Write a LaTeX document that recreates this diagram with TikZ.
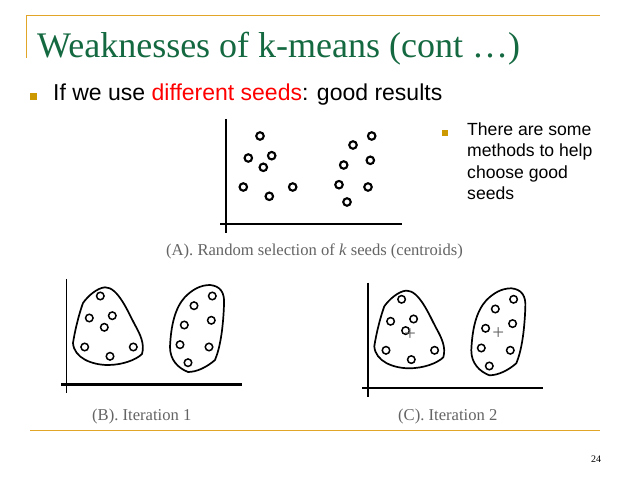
\documentclass[tikz,border=0pt]{standalone}
\usepackage{fontspec}
\setmainfont{Liberation Serif}
\newfontfamily\bodyfont{Liberation Sans}
\definecolor{rulegold}{RGB}{226,165,40}
\definecolor{bulletgold}{RGB}{204,153,0}
\definecolor{titlegreen}{RGB}{20,105,65}
\definecolor{captiongray}{RGB}{100,100,100}
\tikzset{
  seed/.style={circle,draw=black,line width=2.1pt,minimum size=7.5pt,inner sep=0pt},
  bullet/.style={fill=bulletgold,inner sep=0pt,minimum size=#1},
  caption/.style={anchor=base west,inner sep=0pt,text=captiongray,font=\fontsize{16.6}{20}\selectfont},
  body/.style={anchor=base west,inner sep=0pt,font=\bodyfont\fontsize{23}{27}\selectfont},
  centre/.style={inner sep=0pt,text=captiongray,font=\fontsize{21}{21}\selectfont},
  blob/.style={line width=1.7pt}
}
% the two clusters, in pixels of panel B
\newcommand{\blobleft}{(55,17.3) .. controls (68,17) and (78,42) .. (85,55) .. controls (90,64) and (95,74) .. (92,84) .. controls (86,90) and (72,95) .. (58,95) .. controls (42,95) and (24,88) .. (23,73) .. controls (25,60) and (29,44) .. (33,33) .. controls (38,26) and (47,18) .. (55,17.3)}
\newcommand{\blobright}{(160,15) .. controls (170,16) and (175,22) .. (174,35) .. controls (173,60) and (170,78) .. (165,90) .. controls (157,97) and (147,102) .. (138,102) .. controls (128,98) and (120,90) .. (120,77) .. controls (121,55) and (125,38) .. (135,27) .. controls (142,20) and (150,15) .. (160,15)}
\begin{document}
\begin{tikzpicture}[x=1pt,y=-1pt]
  \useasboundingbox (0,0) rectangle (638,478);
  \fill[white] (0,0) rectangle (638,478);
  % frame
  \draw[rulegold,line width=1.2pt] (26.5,58) -- (26.5,15.5) -- (600,15.5);
  \draw[rulegold,line width=1.2pt] (30,430.5) -- (600,430.5);
  % text
  \node[anchor=base west,inner sep=0pt,text=titlegreen,font=\fontsize{36}{40}\selectfont] (title) at (37,58) {Weaknesses of k-means (cont \dots)};
  \node[bullet=7pt] (bulletA) at (33.5,96.5) {};
  \node[body] (intro) at (53,101) {If we use \textcolor{red}{different seeds}: good results};
  \node[bullet=5.5pt] (bulletB) at (444.8,132.8) {};
  \node[anchor=north west,inner sep=0pt,align=left,font=\bodyfont\fontsize{17.6}{21.3}\selectfont] (hint) at (467,122.5) {There are some\\methods to help\\choose good\\seeds};
  \node[caption] (capA) at (166,256) {(A). Random selection of \textit{k} seeds (centroids)};
  \node[caption] (capB) at (92,421) {(B). Iteration 1};
  \node[caption] (capC) at (398,421) {(C). Iteration 2};
  \node[inner sep=0pt,font=\fontsize{10}{12}\selectfont] (page) at (596,459) {24};
  % panel A
  \draw[line width=2pt] (226,119) -- (226,232.7);
  \draw[line width=1.8pt] (220,224) -- (401.7,224);
  \foreach \x/\y [count=\i] in {260/136,248.3/158,271.7/155.7,263.3/167.3,243.3/187,269.3/196.3,292.7/187,353/145,371.7/136,343.7/165,370.3/160.3,339/184.7,368/187,347/202}
    \node[seed] (a\i) at (\x,\y) {};
  % panel B
  \draw[line width=1.4pt] (66.7,279) -- (66.7,393);
  \draw[line width=3pt] (61,384.3) -- (241.7,384.3);
  \begin{scope}[xshift=50pt,yshift=-270pt]
    \draw[blob] \blobleft;
    \draw[blob] \blobright;
  \end{scope}
  \foreach \x/\y [count=\i] in {100.3/296,89.3/318,112.3/315.7,104.3/327.3,84.7/347,110/356.3,133.3/347,194/305.7,212.3/296,184.3/325,211.3/320.3,180/344.7,209/347,188/362.7}
    \node[seed,line width=1.5pt] (b\i) at (\x,\y) {};
  % panel C
  \draw[line width=2.2pt] (367.7,282.7) -- (367.7,397);
  \draw[line width=1.4pt] (362,388) -- (542.7,388);
  \begin{scope}[xshift=351.3pt,yshift=-273.3pt]
    \draw[blob] \blobleft;
    \draw[blob] \blobright;
  \end{scope}
  \foreach \x/\y [count=\i] in {100.3/296,89.3/318,112.3/315.7,104.3/327.3,84.7/347,110/356.3,133.3/347,194/305.7,212.3/296,184.3/325,211.3/320.3,180/344.7,209/347,188/362.7}
    \node[seed,line width=1.5pt,xshift=301.3pt,yshift=-3.3pt] (c\i) at (\x,\y) {};
  \node[centre] (plusA) at (410,334.3) {+};
  \node[centre] (plusB) at (498.3,333.3) {+};
\end{tikzpicture}
\end{document}
